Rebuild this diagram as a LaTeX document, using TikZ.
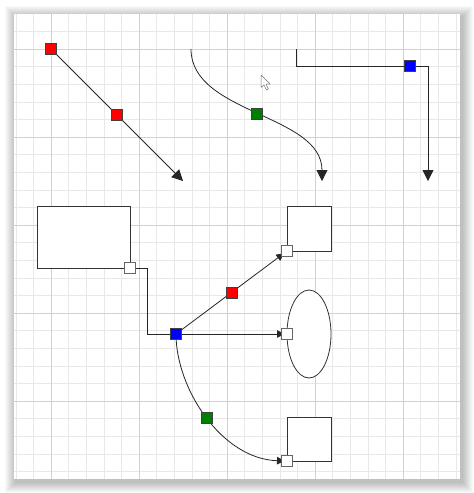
\documentclass[tikz,border=0pt]{standalone}
\usetikzlibrary{arrows.meta,shapes.geometric}
\pgfdeclarelayer{gridlayer}
\pgfdeclarelayer{connlayer}
\pgfsetlayers{gridlayer,connlayer,main}
\begin{document}
\begin{tikzpicture}[x=1pt,y=-1pt,
  conn/.style={draw=black!85, line width=0.8pt},
  bigtip/.style={-{Triangle[length=11pt,width=11pt]}},
  smalltip/.style={-{Triangle[length=7.5pt,width=7.5pt]}, shorten >=-3pt},
  handle/.style={rectangle, minimum size=11pt, inner sep=0pt, outer sep=0pt, draw=black!75, line width=0.6pt},
  port/.style={handle, fill=white, draw=black!60},
  shapebox/.style={rectangle, draw=black!80, line width=0.8pt, fill=white, inner sep=0pt, outer sep=0pt},
  shapeell/.style={ellipse, draw=black!80, line width=0.8pt, fill=white, inner sep=0pt, outer sep=0pt, minimum width=44pt, minimum height=88pt},
  minorline/.style={draw=black!9, line width=0.6pt},
  majorline/.style={draw=black!18, line width=0.8pt},
  cursorshape/.style={draw=black!55, fill=white, line width=0.5pt, line join=round}]
\useasboundingbox (0,0) rectangle (474,493);
\begin{pgfonlayer}{gridlayer}
  \fill[white] (0,0) rectangle (474,493);
  \foreach \i in {1,...,11}
    \fill[black, opacity=0.022] (14-\i+2, 14-\i+3) rectangle (460+\i+2, 479+\i+3);
  \fill[white] (14,14) rectangle (460,479);
  \foreach \k in {-2,...,23}
    \draw[minorline] ({51+17.6*\k},14) -- ({51+17.6*\k},479);
  \foreach \k in {-1,...,24}
    \draw[minorline] (14,{49+17.6*\k}) -- (460,{49+17.6*\k});
  \foreach \k in {0,...,4}
    \draw[majorline] ({51+88*\k},14) -- ({51+88*\k},479);
  \foreach \k in {0,...,4}
    \draw[majorline] (14,{49+88*\k}) -- (460,{49+88*\k});
\end{pgfonlayer}

% top: straight connector
\node[handle, fill=red] (r1) at (51,49) {};
\node[handle, fill=red] (r2) at (117,115) {};
\coordinate (t1) at (183,181);
% top: curved connector
\coordinate (c1) at (191,49);
\node[handle, fill=green!50!black] (g1) at (256.5,114) {};
\coordinate (t2) at (322,181);
% top: orthogonal connector
\coordinate (o1) at (296,49);
\coordinate (o2) at (296,66);
\coordinate (o3) at (428,66);
\node[handle, fill=blue] (b1) at (410,66) {};
\coordinate (t3) at (428,181);

% bottom shapes
\node[shapebox, minimum width=93pt, minimum height=62pt] (box1) at (83.5,237) {};
\node[shapebox, minimum width=44pt, minimum height=45pt] (box2) at (309,228.5) {};
\node[shapeell] (ell) at (309,334) {};
\node[shapebox, minimum width=44pt, minimum height=44pt] (box3) at (309,439) {};

\node[port] (p0) at (130,268) {};
\node[port] (p1) at (287,251) {};
\node[port] (p2) at (287,334) {};
\node[port] (p3) at (287,461) {};

\node[handle, fill=blue] (bl) at (176,334) {};
\node[handle, fill=red] (r3) at (231.5,292.5) {};
\node[handle, fill=green!50!black] (g2) at (207,418) {};
\coordinate (e1) at (147,268);
\coordinate (e2) at (147,334);

% cursor
\draw[cursorshape] (261,75) -- (261,87.5) -- (264,84.8) -- (266.3,89.8) -- (268.3,88.9) -- (266,84) -- (270,84) -- cycle;

\begin{pgfonlayer}{connlayer}
  \draw[conn, bigtip] (r1.center) -- (t1);
  \draw[conn, bigtip] (c1) .. controls (191,114) and (322,114) .. (t2);
  \draw[conn, bigtip] (o1) -- (o2) -- (o3) -- (t3);
  \draw[conn] (p0.center) -- (e1) -- (e2) -- (bl.center);
  \draw[conn, smalltip] (bl.center) -- (p1);
  \draw[conn, smalltip] (bl.center) -- (p2.west);
  \draw[conn, smalltip] (bl.center) .. controls (176,389) and (222,459) .. (p3);
\end{pgfonlayer}
\end{tikzpicture}
\end{document}
